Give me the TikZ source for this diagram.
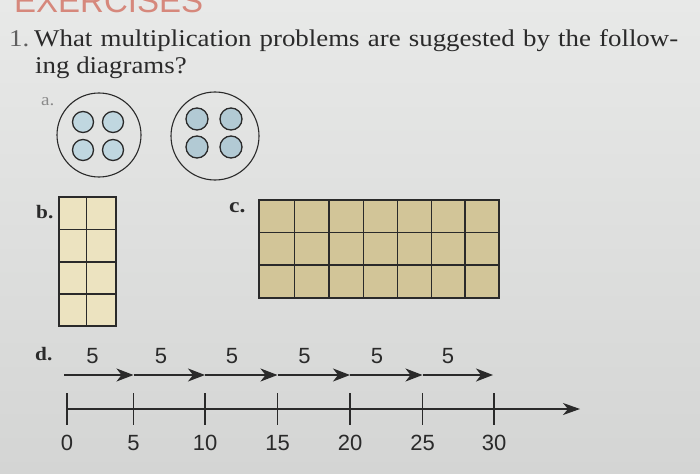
\documentclass[tikz,border=0pt]{standalone}
\usepackage{fontspec}
\setmainfont{Liberation Serif}[FakeStretch=1.12]
\setsansfont{Liberation Sans}
\usetikzlibrary{arrows.meta}

\definecolor{paperhi}{RGB}{232,233,232}
\definecolor{paperlo}{RGB}{212,213,212}
\definecolor{ink}{RGB}{42,42,42}
\definecolor{dotblue}{RGB}{192,215,224}
\definecolor{dotbluedk}{RGB}{178,202,212}
\definecolor{cellpale}{RGB}{236,227,192}
\definecolor{celltan}{RGB}{210,197,152}
\definecolor{headred}{RGB}{214,136,124}

\tikzset{
  headtext/.style={font=\sffamily\fontsize{33}{36}\selectfont, text=headred, inner sep=0pt, anchor=base west},
  qtext/.style={font=\fontsize{24}{28}\selectfont, text=ink, inner sep=0pt, anchor=base west},
  partlabel/.style={font=\bfseries\fontsize{19}{22}\selectfont, text=ink, inner sep=0pt, anchor=base west},
  numlabel/.style={font=\sffamily\fontsize{22}{26}\selectfont, text=ink, inner sep=0pt},
  bigset/.style={circle, draw=ink, line width=1.1pt, inner sep=0pt},
  counter/.style={circle, draw=ink, line width=1.3pt, inner sep=0pt, minimum size=21pt},
  jump/.style={-{Stealth[length=17pt,width=13pt,inset=5pt]}, line width=1.3pt},
}

\begin{document}
\begin{tikzpicture}[x=1pt,y=-1pt,color=ink]
\useasboundingbox (0,0) rectangle (700,473);
\clip (0,0) rectangle (700,473);
\shade[top color=paperhi, bottom color=paperlo] (0,0) rectangle (700,473); %paper

% heading, cut off at the top edge
\node[headtext] (head) at (14,13) {EXERCISES};

% question, first line set justified
\node[qtext, text=ink!75] (qnum) at (9,47) {1.};
\node[qtext] (qline1) at (34,47) {\makebox[644pt][s]{What multiplication problems are suggested by the follow-}};
\node[qtext] (qline2) at (35,74) {ing diagrams?};

% a. two sets of four
\node[partlabel, font=\fontsize{17}{20}\selectfont, text=ink!55] (lblA) at (41,106) {a.};
\node[bigset, minimum size=84pt] (setL) at (99,135) {};
\node[bigset, minimum size=88pt] (setR) at (215,136) {};
\foreach \x/\y [count=\i] in {83/122, 113/122, 83/150, 113/150}
  \node[counter, fill=dotblue] (cl\i) at (\x,\y) {};
\foreach \x/\y [count=\i] in {197/119, 231/119, 197/147, 231/147}
  \node[counter, fill=dotbluedk, minimum size=22pt] (cr\i) at (\x,\y) {};

% b. 4 by 2 array
\node[partlabel] (lblB) at (36,218) {b.};
\fill[cellpale] (59,197) rectangle (116,326);
\draw[line width=1.4pt] (59,197) rectangle (116,326);
\draw[line width=1.2pt] (86.5,197) -- (86.5,326);
\foreach \y in {229.5,262,294}
  \draw[line width=1.2pt] (59,\y) -- (116,\y);

% c. 3 by 7 array
\node[partlabel, font=\bfseries\fontsize{21}{24}\selectfont] (lblC) at (229,212) {c.};
\fill[celltan] (259,200) rectangle (499,298);
\draw[line width=1.4pt] (259,200) rectangle (499,298);
\foreach \x in {294.3,329,363.3,397.7,431.7,465}
  \draw[line width=1.2pt] (\x,200) -- (\x,298);
\foreach \y in {232.7,265}
  \draw[line width=1.2pt] (259,\y) -- (499,\y);

% d. jumps of 5 on a number line
\node[partlabel] (lblD) at (35,360) {d.};
\coordinate (p0) at (64,375);
\foreach \x [count=\i] in {133.5,205,277.5,350,422.5,493}
  \coordinate (p\i) at (\x,375);
\foreach \i [evaluate=\i as \j using int(\i-1)] in {1,...,6}
  \draw[jump] (p\j) -- (p\i);
\foreach \x [count=\i] in {92.5,161,232,304.5,377,448}
  \node[numlabel] (five\i) at (\x,356) {5};

\foreach \x/\n [count=\i from 0] in {67/0,133.5/5,205/10,277.5/15,350/20,422.5/25,494/30}{
  \coordinate (t\i) at (\x,409);
  \draw[line width=1.3pt] (\x,393) -- (\x,425); %tick
  \node[numlabel] (num\i) at (\x,443) {\n};
}
\coordinate (lineend) at (580,409);
\draw[-{Stealth[length=17pt,width=12pt,inset=5pt]}, line width=1.3pt] (t0) -- (lineend);
\end{tikzpicture}
\end{document}
